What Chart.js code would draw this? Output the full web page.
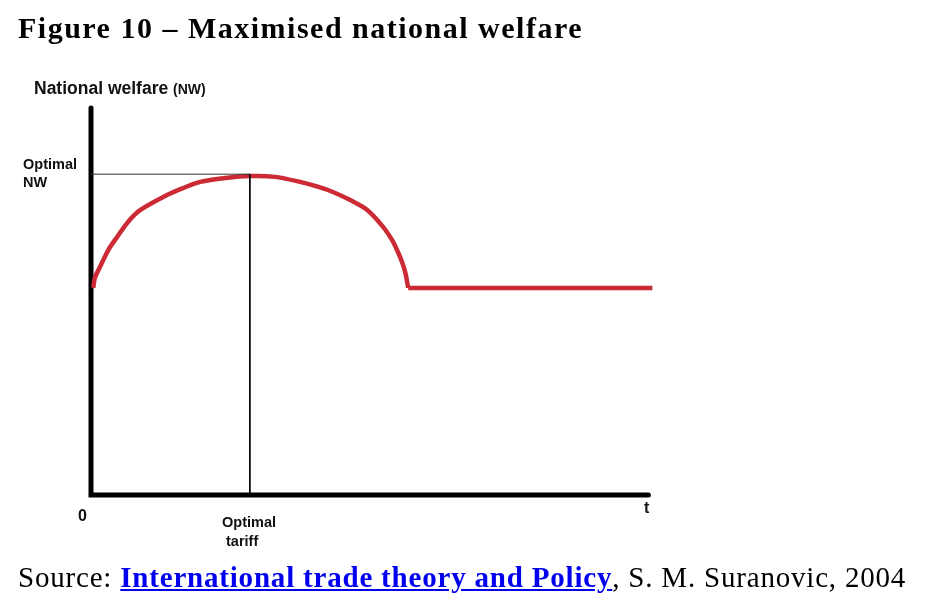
<!DOCTYPE html>
<html><head><meta charset="utf-8">
<script src="https://cdn.jsdelivr.net/npm/chart.js@4"></script>
<style>
body{margin:0;background:#fff;width:937px;height:612px;overflow:hidden;position:relative}
#c{position:absolute;left:0;top:0}
.t{position:absolute;white-space:nowrap;font-family:"Liberation Sans",Arial,sans-serif;font-weight:bold;color:#111}
</style></head><body>
<canvas id="c" width="937" height="612"></canvas>
<div class="t" style="left:18px;top:11px;font-family:'Liberation Serif',serif;font-size:30px;letter-spacing:1.5px;color:#000">Figure 10 – Maximised national welfare</div>
<div class="t" style="left:34px;top:78px;font-size:17.5px">National welfare <span style="font-size:14px">(NW)</span></div>
<div class="t" style="left:23px;top:155px;font-size:14.5px;line-height:18px">Optimal<br>NW</div>
<div class="t" style="left:78px;top:507px;font-size:16px">0</div>
<div class="t" style="left:644px;top:499px;font-size:16px">t</div>
<div class="t" style="left:222px;top:513px;font-size:14.5px;line-height:19px">Optimal<br>&nbsp;tariff</div>
<div class="t" style="left:18px;top:561px;font-family:'Liberation Serif',serif;font-weight:normal;font-size:29px;letter-spacing:0.8px;color:#000">Source: <span style="color:#0000ee;font-weight:bold;text-decoration:underline">International trade theory and Policy</span>, S. M. Suranovic, 2004</div>
<script>
const curveX=[0.4,0.7,1.6,3.1,4.7,6.6,8.8,13.6,16.5,19.6,24.1,28.5,33.0,37.5,40.8,43.4,46.5,49.6,52.4,54.0,54.9,55.8,56.4,56.9];
const curveY=[53.5,56.1,58.9,63.3,66.7,70.5,73.6,77.5,79.3,80.9,81.9,82.4,82.2,80.9,79.6,78.3,76.2,73.6,69.3,65.9,63.3,60.2,57.4,53.5];
const flatX=[56.9,100.7];
const flatY=[53.5,53.5];
const optX=28.5, optY=82.9;
const pts=(xs,ys)=>xs.map((x,i)=>({x,y:ys[i]}));
const red='#cc2a35';
new Chart(document.getElementById('c'),{
 type:'scatter',
 data:{datasets:[
  {data:[{x:0,y:optY},{x:optX,y:optY}],showLine:true,borderColor:'#333',borderWidth:1,pointRadius:0},
  {data:[{x:optX,y:optY},{x:optX,y:0}],showLine:true,borderColor:'#000',borderWidth:1,pointRadius:0},
  {data:pts(curveX,curveY),showLine:true,borderColor:red,borderWidth:4.5,pointRadius:0,tension:0.3,clip:false},
  {data:pts(flatX,flatY),showLine:true,borderColor:red,borderWidth:4.5,pointRadius:0,clip:false},
  {data:[{x:0,y:100},{x:0,y:0},{x:100,y:0}],showLine:true,borderColor:'#000',borderWidth:5,pointRadius:0,borderCapStyle:'round',borderJoinStyle:'miter',clip:false}
 ]},
 options:{responsive:false,animation:false,
  layout:{padding:{left:91,right:283,top:108,bottom:117}},
  plugins:{legend:{display:false},tooltip:{enabled:false}},
  scales:{x:{type:'linear',min:0,max:101,display:false},y:{min:0,max:100,display:false}}}
});
</script></body></html>
